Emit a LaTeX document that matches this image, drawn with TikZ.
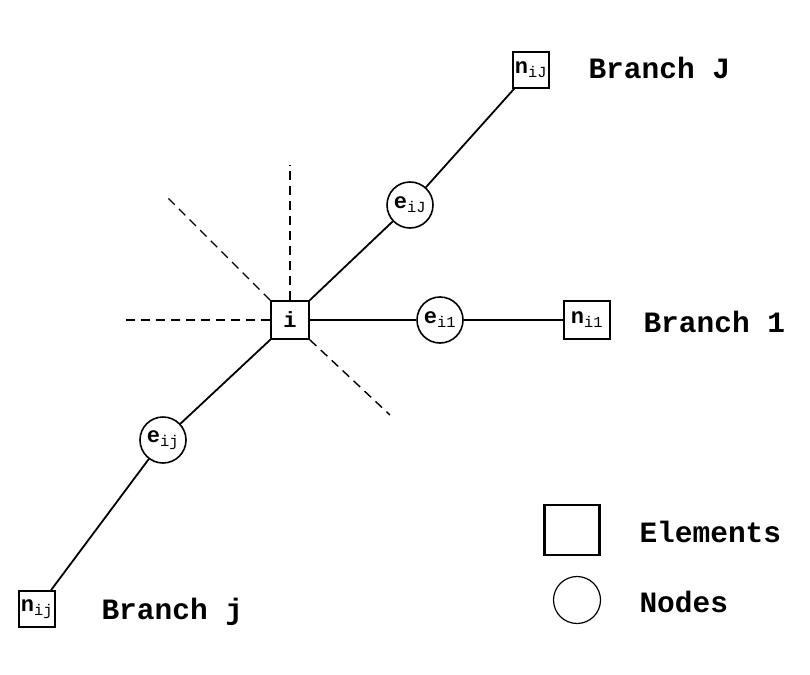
\documentclass[tikz,border=0pt]{standalone}
\usepackage{fontspec}
\setmainfont{Liberation Mono}
\begin{document}
\begin{tikzpicture}[x=1pt,y=-1pt,
  el/.style={draw,line width=1.6pt,inner sep=0pt,minimum width=#1,minimum height=#1,font=\bfseries\fontsize{22}{22}\selectfont},
  nd/.style={draw,line width=1.6pt,circle,inner sep=0pt,minimum size=46,font=\bfseries\fontsize{22}{22}\selectfont},
  lab/.style={anchor=west,font=\bfseries\fontsize{29.5}{29.5}\selectfont},
  ln/.style={line width=1.8pt},
  dl/.style={line width=1.4pt,dash pattern=on 9pt off 6pt}]
\useasboundingbox (0,0) rectangle (810,674);
\node[el=38] (i) at (290,320) {i};
\node[nd] (e1) at (440,320) {e$_{\mathrm{i1}}$};
\node[el=38,minimum width=46] (n1) at (587,320) {n$_{\mathrm{i1}}$};
\node[nd] (eJ) at (410,205) {e$_{\mathrm{iJ}}$};
\node[el=36] (nJ) at (531,70) {n$_{\mathrm{iJ}}$};
\node[nd] (ej) at (163,440) {e$_{\mathrm{ij}}$};
\node[el=36] (nj) at (37,609) {n$_{\mathrm{ij}}$};
\node[lab] (b1) at (640,322) {Branch 1};
\node[lab] (bJ) at (585,68) {Branch J};
\node[lab] (bj) at (98,612) {Branch j};
\node[draw,line width=2.5pt,minimum width=55,minimum height=50] (le) at (572,530) {};
\node[lab] (tle) at (636,532) {Elements};
\node[draw,line width=1.2pt,circle,minimum size=47] (ln) at (577,600) {};
\node[lab] (tln) at (636,602) {Nodes};
\draw[ln] (i) -- (e1) -- (n1);
\draw[ln] (i.north east) -- (eJ) -- (nJ);
\draw[ln] (i.south west) -- (ej) -- (nj);
\coordinate (d1) at (290,165);
\coordinate (d2) at (125,320);
\coordinate (d3) at (165,195);
\coordinate (d4) at (390,415);
\draw[dl] (i.north) -- (d1);
\draw[dl] (i.west) -- (d2);
\draw[dl] (i.north west) -- (d3);
\draw[dl] (i.south east) -- (d4);
\end{tikzpicture}
\end{document}
